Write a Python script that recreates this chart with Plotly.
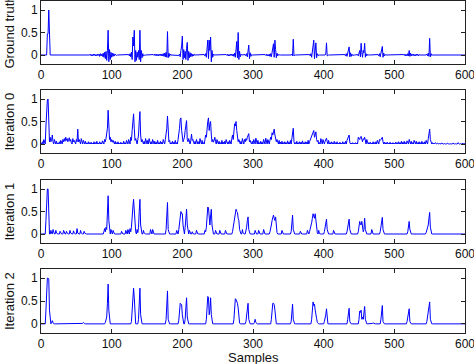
import numpy as np
import plotly.graph_objects as go

N_SAMPLES = 600
x_ticks = [0, 100, 200, 300, 400, 500, 600]
y_ticks = [0, 0.5, 1]
panel_titles = ["Ground truth", "Iteration 0", "Iteration 1", "Iteration 2"]
x_title = "Samples"

# (sample index, value) for every non-zero sample
gt_points = [
    (9, 0.47), (10, 0.47), (11, 1.0),
    (70, 0.02), (71, -0.02), (72, 0.01), (73, -0.02), (74, 0.02), (75, -0.01), (76, 0.02), (77, -0.02),
    (78, 0.01), (79, -0.02), (80, 0.02), (81, -0.01), (82, 0.02), (83, -0.03), (84, 0.03), (85, -0.02),
    (86, 0.02), (87, -0.03), (88, 0.04), (89, -0.05), (90, 0.06), (91, -0.08), (92, 0.08), (93, -0.12),
    (94, 0.1), (95, 0.55), (96, -0.15), (97, 0.12), (98, -0.1), (99, 0.06), (100, -0.05), (101, 0.04),
    (102, -0.03), (103, 0.03), (104, -0.02), (105, 0.02), (107, -0.01),
    (124, 0.01), (125, -0.02), (126, 0.03), (127, -0.04), (128, 0.06), (129, -0.1), (130, 0.4), (131, 0.2),
    (132, 0.55), (133, -0.15), (134, 0.1), (135, -0.12), (136, 0.06), (137, -0.05), (138, 0.1), (139, -0.1),
    (140, 0.55), (141, -0.15), (142, 0.1), (143, -0.06), (144, 0.03), (145, -0.02),
    (159, 0.01), (160, -0.01), (161, 0.02), (162, -0.01), (163, 0.02), (164, -0.02), (165, 0.01), (166, -0.02),
    (167, 0.02), (168, -0.01), (169, 0.02), (170, -0.02), (171, 0.02), (172, -0.02), (173, 0.03), (174, -0.03),
    (175, 0.04), (176, -0.04), (177, 0.06), (178, -0.05), (179, 0.52), (180, -0.06), (181, 0.04), (182, -0.03),
    (183, 0.02),
    (195, -0.01), (196, 0.02), (197, -0.04), (198, 0.1), (199, 0.2), (200, 0.42), (201, -0.1), (202, 0.12),
    (203, -0.06), (204, 0.08), (205, -0.1), (206, 0.15), (207, 0.28), (208, -0.12), (209, 0.08), (210, -0.06),
    (211, 0.05), (212, -0.04), (213, 0.03), (214, -0.03), (215, 0.02), (216, -0.02), (217, 0.01),
    (231, 0.01), (232, -0.02), (233, 0.03), (234, -0.05), (235, 0.1), (236, 0.33), (237, -0.08), (238, 0.33),
    (239, 0.1), (240, 0.4), (241, -0.15), (242, 0.1), (243, -0.05), (244, 0.02),
    (262, 0.01), (263, -0.01), (264, 0.02), (265, -0.02), (266, 0.01), (267, -0.02), (268, 0.02), (269, -0.01),
    (270, 0.02), (271, -0.02), (272, 0.02), (273, -0.03), (274, 0.04), (275, -0.05), (276, 0.15), (277, 0.3),
    (278, -0.06), (279, 0.5), (280, -0.1), (281, 0.08), (282, -0.04), (283, 0.02),
    (289, 0.01), (290, -0.02), (291, 0.03), (292, -0.04), (293, 0.08), (294, 0.22), (295, -0.08), (296, 0.05),
    (297, -0.03), (298, 0.01),
    (317, 0.01), (318, -0.01), (319, 0.02), (320, -0.02), (321, 0.01), (322, -0.02), (323, 0.02), (324, -0.03),
    (325, 0.03), (326, -0.04), (327, 0.06), (328, 0.1), (329, 0.25), (330, -0.05), (331, 0.33), (332, 0.12),
    (333, -0.06), (334, 0.04), (335, -0.02), (336, 0.01),
    (355, 0.02), (356, -0.02), (357, 0.35), (358, -0.02),
    (380, 0.01), (381, -0.02), (382, 0.03), (383, -0.05), (384, 0.1), (385, 0.2), (386, 0.33), (387, -0.08),
    (388, 0.1), (389, 0.27), (390, -0.06), (391, 0.03), (392, -0.01),
    (403, 0.02), (404, 0.27), (405, -0.02),
    (430, 0.01), (431, -0.02), (432, 0.03), (433, -0.03), (434, 0.06), (435, 0.1), (436, 0.18), (437, -0.04),
    (438, 0.05), (439, -0.03), (440, 0.02), (441, -0.01),
    (448, 0.01), (449, -0.02), (450, 0.03), (451, 0.1), (452, -0.04), (453, 0.26), (454, 0.05), (455, -0.05),
    (456, 0.1), (457, 0.05), (458, 0.26), (459, -0.05), (460, 0.03), (461, -0.02), (462, 0.01),
    (477, 0.01), (478, -0.02), (479, 0.03), (480, -0.04), (481, 0.06), (482, 0.1), (483, 0.19), (484, -0.05),
    (485, 0.04), (486, -0.02), (487, 0.01),
    (513, 0.01), (514, -0.01), (515, 0.02), (516, -0.02), (517, 0.01), (518, -0.02), (519, 0.03), (520, -0.02),
    (521, 0.1), (522, -0.03), (523, 0.04), (524, -0.02), (525, 0.02), (526, -0.01), (527, 0.02), (528, -0.02),
    (529, 0.01), (530, -0.02), (531, 0.02), (532, -0.01), (533, 0.02), (534, -0.02), (535, 0.01),
    (546, 0.02), (547, -0.02), (548, 0.04), (549, -0.03), (550, 0.37), (551, -0.04), (552, 0.03), (553, -0.01),
]

it0_points = [
    (0, 0.02), (2, 0.05), (4, 0.1), (5, 0.03), (7, 0.4), (8, 0.93), (9, 0.98), (10, 1.0), (11, 0.5), (12, 0.05),
    (13, 0.15), (14, 0.05), (15, 0.08), (16, 0.2), (17, 0.05), (19, 0.1), (20, 0.03), (22, 0.06), (24, 0.02),
    (26, 0.05), (28, 0.08), (29, 0.03), (31, 0.1), (32, 0.05), (33, 0.12), (34, 0.06), (35, 0.15), (36, 0.08),
    (37, 0.12), (38, 0.05), (39, 0.1), (40, 0.14), (41, 0.06), (42, 0.1), (43, 0.03), (45, 0.12), (46, 0.05),
    (47, 0.08), (48, 0.03), (50, 0.1), (51, 0.05), (52, 0.33), (53, 0.05), (54, 0.1), (55, 0.04), (57, 0.12),
    (58, 0.05), (60, 0.08), (61, 0.03), (63, 0.06), (65, 0.02), (67, 0.05), (69, 0.03), (71, 0.04), (73, 0.02),
    (75, 0.05), (77, 0.03), (79, 0.06), (81, 0.02), (83, 0.05), (85, 0.03), (87, 0.07), (88, 0.03), (90, 0.1),
    (91, 0.05), (92, 0.12), (93, 0.2), (94, 0.35), (95, 0.75), (96, 0.3), (97, 0.1), (98, 0.15), (99, 0.05),
    (100, 0.1), (101, 0.04), (102, 0.08), (103, 0.03), (105, 0.06), (107, 0.03), (109, 0.05), (111, 0.02),
    (113, 0.04), (115, 0.02), (117, 0.06), (119, 0.03), (121, 0.08), (122, 0.04), (124, 0.1), (125, 0.05),
    (127, 0.15), (128, 0.08), (129, 0.3), (130, 0.6), (131, 0.67), (132, 0.35), (133, 0.08), (134, 0.12),
    (135, 0.05), (137, 0.1), (138, 0.2), (139, 0.5), (140, 0.72), (141, 0.2), (142, 0.05), (143, 0.1),
    (144, 0.03), (146, 0.06), (148, 0.12), (149, 0.03), (151, 0.08), (153, 0.12), (154, 0.03), (156, 0.05),
    (158, 0.1), (159, 0.03), (161, 0.06), (163, 0.04), (165, 0.08), (167, 0.03), (169, 0.06), (171, 0.04),
    (173, 0.1), (174, 0.04), (176, 0.1), (177, 0.2), (178, 0.35), (179, 0.62), (180, 0.1), (181, 0.05),
    (182, 0.08), (184, 0.03), (186, 0.06), (188, 0.04), (190, 0.08), (192, 0.03), (194, 0.1), (195, 0.2),
    (196, 0.35), (197, 0.55), (198, 0.58), (199, 0.3), (200, 0.12), (201, 0.05), (202, 0.1), (203, 0.15),
    (204, 0.3), (205, 0.4), (206, 0.52), (207, 0.1), (208, 0.05), (209, 0.12), (210, 0.04), (212, 0.08),
    (213, 0.22), (214, 0.08), (215, 0.1), (216, 0.03), (218, 0.06), (220, 0.1), (221, 0.03), (223, 0.05),
    (225, 0.12), (226, 0.04), (228, 0.08), (230, 0.03), (232, 0.1), (233, 0.2), (234, 0.15), (235, 0.4),
    (236, 0.5), (237, 0.58), (238, 0.3), (239, 0.45), (240, 0.5), (241, 0.2), (242, 0.05), (243, 0.1),
    (244, 0.04), (245, 0.08), (246, 0.15), (247, 0.05), (249, 0.1), (250, 0.03), (252, 0.06), (254, 0.03),
    (256, 0.08), (258, 0.04), (260, 0.06), (262, 0.1), (263, 0.03), (265, 0.05), (267, 0.08), (268, 0.03),
    (270, 0.12), (271, 0.2), (272, 0.1), (273, 0.3), (274, 0.45), (275, 0.4), (276, 0.5), (277, 0.3),
    (278, 0.1), (279, 0.05), (280, 0.1), (281, 0.03), (283, 0.06), (285, 0.12), (286, 0.04), (288, 0.1),
    (289, 0.05), (290, 0.12), (291, 0.08), (292, 0.15), (293, 0.18), (294, 0.23), (295, 0.05), (296, 0.08),
    (297, 0.03), (299, 0.06), (301, 0.1), (302, 0.04), (304, 0.13), (305, 0.05), (307, 0.08), (309, 0.03),
    (311, 0.06), (313, 0.04), (315, 0.1), (316, 0.05), (318, 0.13), (319, 0.06), (321, 0.1), (322, 0.04),
    (324, 0.08), (325, 0.15), (326, 0.1), (327, 0.25), (328, 0.2), (329, 0.3), (330, 0.33), (331, 0.2),
    (332, 0.12), (333, 0.05), (334, 0.1), (335, 0.03), (337, 0.08), (339, 0.04), (341, 0.06), (343, 0.03),
    (345, 0.05), (347, 0.03), (349, 0.07), (351, 0.04), (353, 0.08), (355, 0.12), (356, 0.2), (357, 0.35),
    (358, 0.05), (360, 0.03), (362, 0.06), (364, 0.03), (366, 0.05), (368, 0.04), (370, 0.07), (372, 0.03),
    (374, 0.05), (376, 0.04), (378, 0.08), (380, 0.05), (381, 0.1), (382, 0.15), (383, 0.2), (384, 0.22),
    (385, 0.25), (386, 0.3), (387, 0.15), (388, 0.2), (389, 0.27), (390, 0.1), (391, 0.05), (392, 0.08),
    (394, 0.03), (396, 0.12), (397, 0.05), (399, 0.1), (400, 0.04), (402, 0.06), (403, 0.1), (404, 0.13),
    (405, 0.05), (407, 0.08), (409, 0.03), (411, 0.05), (413, 0.03), (415, 0.06), (417, 0.03), (419, 0.05),
    (421, 0.02), (423, 0.04), (425, 0.02), (427, 0.05), (429, 0.03), (431, 0.06), (433, 0.08), (434, 0.12),
    (435, 0.15), (436, 0.2), (437, 0.04), (439, 0.02), (441, 0.03), (443, 0.02), (445, 0.03), (447, 0.02),
    (449, 0.15), (450, 0.12), (451, 0.1), (452, 0.15), (453, 0.17), (454, 0.1), (455, 0.05), (456, 0.12),
    (457, 0.1), (458, 0.15), (459, 0.04), (461, 0.1), (462, 0.05), (464, 0.03), (466, 0.04), (468, 0.02),
    (470, 0.05), (472, 0.03), (474, 0.05), (476, 0.08), (477, 0.04), (479, 0.1), (480, 0.08), (481, 0.1),
    (482, 0.12), (483, 0.15), (484, 0.05), (486, 0.04), (488, 0.03), (490, 0.04), (492, 0.02), (494, 0.04),
    (496, 0.02), (498, 0.03), (500, 0.02), (502, 0.04), (504, 0.03), (506, 0.05), (508, 0.03), (510, 0.06),
    (512, 0.04), (514, 0.06), (516, 0.03), (518, 0.07), (519, 0.04), (521, 0.1), (522, 0.05), (524, 0.06),
    (526, 0.03), (528, 0.08), (529, 0.04), (531, 0.06), (533, 0.03), (535, 0.05), (537, 0.03), (539, 0.06),
    (541, 0.03), (543, 0.05), (545, 0.08), (546, 0.04), (548, 0.12), (549, 0.2), (550, 0.33), (551, 0.1),
    (552, 0.05), (554, 0.03), (556, 0.02), (558, 0.03), (561, 0.02), (564, 0.01), (567, 0.02), (571, 0.01),
    (575, 0.02), (579, 0.01), (583, 0.02), (587, 0.01), (590, 0.03), (594, 0.01), (597, 0.02), (599, 0.01),
]

it1_points = [
    (7, 0.3), (8, 1.0), (9, 1.0), (10, 1.0), (11, 0.4), (14, 0.08), (15, 0.02), (17, 0.1), (18, 0.02),
    (21, 0.08), (22, 0.02), (27, 0.06), (28, 0.02), (32, 0.08), (33, 0.02), (36, 0.06), (37, 0.02),
    (41, 0.08), (42, 0.02), (46, 0.07), (47, 0.02), (51, 0.12), (52, 0.02), (56, 0.08), (57, 0.02),
    (61, 0.06), (62, 0.02),
    (89, 0.05), (90, 0.12), (91, 0.05), (92, 0.15), (93, 0.1), (94, 0.4), (95, 0.85), (96, 0.3),
    (97, 0.05), (99, 0.1), (100, 0.02), (102, 0.08), (103, 0.01),
    (114, 0.06), (115, 0.01), (120, 0.08), (121, 0.02), (123, 0.1), (124, 0.03), (126, 0.12), (127, 0.05),
    (128, 0.15), (129, 0.3), (130, 0.6), (131, 0.77), (132, 0.55), (133, 0.2), (134, 0.05), (136, 0.1),
    (137, 0.03), (138, 0.15), (139, 0.5), (140, 0.77), (141, 0.2), (142, 0.02), (145, 0.08), (146, 0.02),
    (155, 0.1), (156, 0.02), (158, 0.1), (159, 0.02),
    (177, 0.1), (178, 0.35), (179, 0.7), (180, 0.1),
    (192, 0.08), (193, 0.02), (195, 0.1), (196, 0.3), (197, 0.45), (198, 0.5), (199, 0.45),
    (200, 0.45), (201, 0.2), (202, 0.05), (204, 0.15), (205, 0.3), (206, 0.55), (207, 0.2), (208, 0.02),
    (210, 0.08), (211, 0.02), (214, 0.05), (215, 0.01), (220, 0.08), (221, 0.01),
    (232, 0.08), (233, 0.05), (234, 0.15), (235, 0.35), (236, 0.6), (237, 0.58), (238, 0.3),
    (239, 0.2), (240, 0.4), (241, 0.55), (242, 0.2), (243, 0.05), (247, 0.08), (248, 0.02),
    (253, 0.08), (254, 0.01), (261, 0.08), (262, 0.01),
    (271, 0.05), (272, 0.15), (273, 0.25), (274, 0.4), (275, 0.5), (276, 0.55), (277, 0.5), (278, 0.48),
    (279, 0.35), (280, 0.3), (281, 0.1), (282, 0.02), (285, 0.1), (286, 0.02),
    (290, 0.05), (291, 0.15), (292, 0.3), (293, 0.38), (294, 0.1), (295, 0.02), (303, 0.08),
    (304, 0.01), (308, 0.08), (309, 0.01), (315, 0.1), (316, 0.01),
    (324, 0.05), (325, 0.1), (326, 0.2), (327, 0.3), (328, 0.4), (329, 0.42), (330, 0.35), (331, 0.3),
    (332, 0.38), (333, 0.15), (334, 0.03), (341, 0.08), (342, 0.01),
    (354, 0.05), (355, 0.2), (356, 0.42), (357, 0.1), (358, 0.02), (367, 0.06), (368, 0.01),
    (377, 0.08), (378, 0.01), (380, 0.05), (381, 0.1), (382, 0.15), (383, 0.25), (384, 0.35),
    (385, 0.45), (386, 0.4), (387, 0.35), (388, 0.45), (389, 0.3), (390, 0.1), (391, 0.03), (393, 0.08),
    (394, 0.01),
    (401, 0.05), (402, 0.15), (403, 0.25), (404, 0.33), (405, 0.1), (406, 0.02), (414, 0.08),
    (415, 0.01),
    (433, 0.05), (434, 0.15), (435, 0.25), (436, 0.33), (437, 0.1), (438, 0.02),
    (449, 0.05), (450, 0.2), (451, 0.28), (452, 0.22), (453, 0.2), (454, 0.28), (455, 0.15), (456, 0.05),
    (457, 0.1), (458, 0.35), (459, 0.1), (460, 0.02), (468, 0.1), (469, 0.01),
    (480, 0.05), (481, 0.15), (482, 0.25), (483, 0.37), (484, 0.1), (485, 0.02),
    (519, 0.05), (520, 0.2), (521, 0.28), (522, 0.1), (523, 0.02),
    (545, 0.03), (546, 0.1), (547, 0.15), (548, 0.2), (549, 0.35), (550, 0.48), (551, 0.15), (552, 0.02),
]

it2_points = [
    (7, 0.3), (8, 1.0), (9, 1.0), (10, 1.0), (11, 0.98), (12, 0.3), (15, 0.03), (16, 0.07), (17, 0.02),
    (59, 0.01), (60, 0.03), (61, 0.01),
    (91, 0.03), (92, 0.08), (93, 0.15), (94, 0.45), (95, 0.87), (96, 0.3), (97, 0.03),
    (128, 0.05), (129, 0.3), (130, 0.6), (131, 0.78), (132, 0.57), (133, 0.1),
    (138, 0.1), (139, 0.5), (140, 0.78), (141, 0.2), (142, 0.02),
    (177, 0.1), (178, 0.4), (179, 0.72), (180, 0.1),
    (195, 0.08), (196, 0.3), (197, 0.45), (198, 0.43), (199, 0.42), (200, 0.2), (201, 0.05),
    (204, 0.1), (205, 0.35), (206, 0.57), (207, 0.15),
    (234, 0.1), (235, 0.4), (236, 0.6), (237, 0.58), (238, 0.2), (239, 0.3), (240, 0.57), (241, 0.2), (242, 0.02),
    (273, 0.1), (274, 0.35), (275, 0.55), (276, 0.53), (277, 0.5), (278, 0.45), (279, 0.35), (280, 0.15), (281, 0.02),
    (290, 0.05), (291, 0.2), (292, 0.3), (293, 0.45), (294, 0.1), (302, 0.03), (303, 0.1), (304, 0.03),
    (326, 0.1), (327, 0.3), (328, 0.45), (329, 0.45), (330, 0.42), (331, 0.3), (332, 0.05),
    (354, 0.05), (355, 0.25), (356, 0.43), (357, 0.1),
    (383, 0.1), (384, 0.3), (385, 0.48), (386, 0.4), (387, 0.43), (388, 0.3), (389, 0.15), (390, 0.12), (391, 0.03),
    (401, 0.05), (402, 0.1), (403, 0.2), (404, 0.33), (405, 0.1),
    (434, 0.1), (435, 0.25), (436, 0.34), (437, 0.05),
    (450, 0.1), (451, 0.28), (452, 0.25), (453, 0.3), (454, 0.1), (455, 0.15), (456, 0.1), (457, 0.2),
    (458, 0.38), (459, 0.1),
    (469, 0.01), (470, 0.02), (471, 0.01),
    (481, 0.1), (482, 0.25), (483, 0.4), (484, 0.05),
    (518, 0.05), (519, 0.15), (520, 0.25), (521, 0.33), (522, 0.05),
    (546, 0.05), (547, 0.15), (548, 0.2), (549, 0.4), (550, 0.48), (551, 0.1),
]

series = [gt_points, it0_points, it1_points, it2_points]


def to_signal(points):
    y = np.zeros(N_SAMPLES + 1)
    for i, v in points:
        y[i] = v
    return y


W, H = 474, 364
L, R, T, B = 41, 9, 1, 31
plot_h = H - T - B
# panel pixel extents (top, bottom) from the top of the figure
panel_px = [(1, 64), (90, 153), (180, 243), (269, 333)]

fig = go.Figure()
xs = np.arange(N_SAMPLES + 1)
axis_common = dict(
    showline=True, linecolor="#222", linewidth=1, mirror="ticks",
    ticks="inside", ticklen=4, tickcolor="#222", showgrid=False, zeroline=False,
    automargin=False, ticklabeloverflow="allow",
    tickfont=dict(family="Liberation Sans, Arial", size=12, color="#111"),
)
for k, pts in enumerate(series):
    n = "" if k == 0 else str(k + 1)
    fig.add_trace(go.Scatter(x=xs, y=to_signal(pts), mode="lines",
                             line=dict(color="#0000ff", width=1),
                             xaxis="x" + n, yaxis="y" + n, showlegend=False,
                             hoverinfo="skip", cliponaxis=True))
    top, bot = panel_px[k]
    dom = [(H - B - bot) / plot_h, (H - B - top) / plot_h]
    fig.layout["xaxis" + n] = dict(range=[0, N_SAMPLES], tickvals=x_ticks,
                                   ticktext=[str(v) for v in x_ticks],
                                   anchor="y" + n, domain=[0, 1], **axis_common)
    fig.layout["yaxis" + n] = dict(range=[-0.2, 1.2], tickvals=y_ticks,
                                   ticktext=["0", "0.5", "1"],
                                   anchor="x" + n, domain=dom, **axis_common)
    fig.add_annotation(text=panel_titles[k], textangle=-90, showarrow=False,
                       xref="paper", yref="paper", x=(9 - L) / (W - L - R),
                       y=(dom[0] + dom[1]) / 2, xanchor="center", yanchor="middle",
                       font=dict(family="Liberation Sans, Arial", size=13, color="#111"))

fig.add_annotation(text=x_title, showarrow=False, xref="paper", yref="paper",
                   x=0.5, y=(H - B - 357) / plot_h, xanchor="center", yanchor="middle",
                   font=dict(family="Liberation Sans, Arial", size=13, color="#111"))

fig.update_layout(width=W, height=H, margin=dict(l=L, r=R, t=T, b=B, autoexpand=False),
                  paper_bgcolor="white", plot_bgcolor="white")
fig.write_html("out.html", config={"displayModeBar": False, "staticPlot": True},
               post_script="document.body.style.margin='0';document.body.style.overflow='hidden';")
